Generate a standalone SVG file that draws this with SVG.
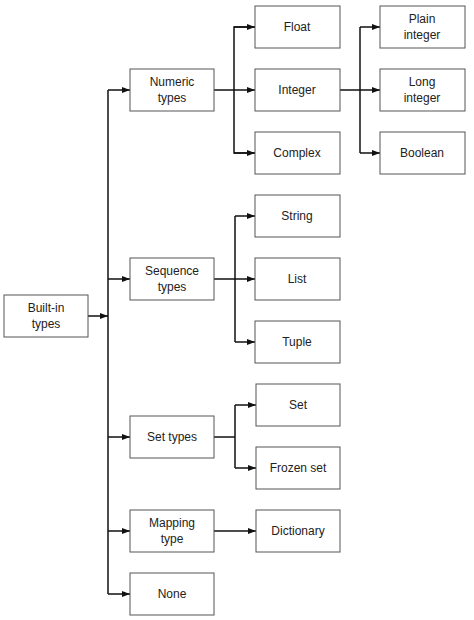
<svg xmlns="http://www.w3.org/2000/svg" width="474" height="620" viewBox="0 0 474 620">
<defs>
<marker id="ah" markerUnits="userSpaceOnUse" markerWidth="8" markerHeight="8" viewBox="0 0 8 8" refX="8" refY="4" orient="auto">
<path d="M0,1 L8,4 L0,7 Z" fill="#111"/>
</marker>
</defs>
<style>
.box{fill:#fff;stroke:#555;stroke-width:1}
.t{font-family:"Liberation Sans",Arial,sans-serif;font-size:12px;fill:#222;text-anchor:middle}
.c{fill:none;stroke:#111;stroke-width:1.5}
</style>
<rect width="474" height="620" fill="#fff"/>
<g id="connectors">
<line class="c" x1="88" y1="316" x2="108" y2="316" marker-end="url(#ah)"/>
<line class="c" x1="108" y1="90" x2="108" y2="594"/>
<line class="c" x1="108" y1="90" x2="130" y2="90" marker-end="url(#ah)"/>
<line class="c" x1="108" y1="279" x2="130" y2="279" marker-end="url(#ah)"/>
<line class="c" x1="108" y1="437" x2="130" y2="437" marker-end="url(#ah)"/>
<line class="c" x1="108" y1="531" x2="130" y2="531" marker-end="url(#ah)"/>
<line class="c" x1="108" y1="594" x2="130" y2="594" marker-end="url(#ah)"/>
<line class="c" x1="214" y1="90" x2="255" y2="90" marker-end="url(#ah)"/>
<polyline class="c" points="255,27 234,27 234,153 255,153"/>
<line class="c" x1="234" y1="27" x2="255" y2="27" marker-end="url(#ah)"/>
<line class="c" x1="234" y1="153" x2="255" y2="153" marker-end="url(#ah)"/>
<line class="c" x1="340" y1="90" x2="380" y2="90" marker-end="url(#ah)"/>
<line class="c" x1="360" y1="27" x2="360" y2="153"/>
<line class="c" x1="360" y1="27" x2="380" y2="27" marker-end="url(#ah)"/>
<line class="c" x1="360" y1="153" x2="380" y2="153" marker-end="url(#ah)"/>
<line class="c" x1="214" y1="279" x2="255" y2="279" marker-end="url(#ah)"/>
<line class="c" x1="235" y1="216" x2="235" y2="342"/>
<line class="c" x1="235" y1="216" x2="255" y2="216" marker-end="url(#ah)"/>
<line class="c" x1="235" y1="342" x2="255" y2="342" marker-end="url(#ah)"/>
<line class="c" x1="214" y1="437" x2="235" y2="437"/>
<line class="c" x1="235" y1="405" x2="235" y2="468"/>
<line class="c" x1="235" y1="405" x2="256" y2="405" marker-end="url(#ah)"/>
<line class="c" x1="235" y1="468" x2="256" y2="468" marker-end="url(#ah)"/>
<line class="c" x1="214" y1="531" x2="256" y2="531" marker-end="url(#ah)"/>
</g>
<g id="builtin"><rect class="box" x="4" y="295" width="84" height="42"/><text class="t" x="46" y="312">Built-in</text><text class="t" x="46" y="328">types</text></g>
<g id="numeric"><rect class="box" x="130" y="69" width="84" height="42"/><text class="t" x="172" y="86">Numeric</text><text class="t" x="172" y="102">types</text></g>
<g id="sequence"><rect class="box" x="130" y="258" width="84" height="42"/><text class="t" x="172" y="275">Sequence</text><text class="t" x="172" y="291">types</text></g>
<g id="settypes"><rect class="box" x="130" y="416" width="84" height="42"/><text class="t" x="172" y="441">Set types</text></g>
<g id="mapping"><rect class="box" x="130" y="510" width="84" height="42"/><text class="t" x="172" y="527">Mapping</text><text class="t" x="172" y="543">type</text></g>
<g id="none"><rect class="box" x="130" y="573" width="84" height="42"/><text class="t" x="172" y="598">None</text></g>
<g id="float"><rect class="box" x="255" y="6" width="85" height="42"/><text class="t" x="297" y="31">Float</text></g>
<g id="integer"><rect class="box" x="255" y="69" width="85" height="42"/><text class="t" x="297" y="94">Integer</text></g>
<g id="complex"><rect class="box" x="255" y="132" width="85" height="42"/><text class="t" x="297" y="157">Complex</text></g>
<g id="string"><rect class="box" x="255" y="195" width="85" height="42"/><text class="t" x="297" y="220">String</text></g>
<g id="list"><rect class="box" x="255" y="258" width="85" height="42"/><text class="t" x="297" y="283">List</text></g>
<g id="tuple"><rect class="box" x="255" y="321" width="85" height="42"/><text class="t" x="297" y="346">Tuple</text></g>
<g id="set"><rect class="box" x="256" y="384" width="84" height="42"/><text class="t" x="298" y="409">Set</text></g>
<g id="frozenset"><rect class="box" x="256" y="447" width="84" height="42"/><text class="t" x="298" y="472">Frozen set</text></g>
<g id="dictionary"><rect class="box" x="256" y="510" width="84" height="42"/><text class="t" x="298" y="535">Dictionary</text></g>
<g id="plain"><rect class="box" x="380" y="6" width="85" height="42"/><text class="t" x="422" y="23">Plain</text><text class="t" x="422" y="39">integer</text></g>
<g id="long"><rect class="box" x="380" y="69" width="85" height="42"/><text class="t" x="422" y="86">Long</text><text class="t" x="422" y="102">integer</text></g>
<g id="boolean"><rect class="box" x="380" y="132" width="85" height="42"/><text class="t" x="422" y="157">Boolean</text></g>
</svg>
